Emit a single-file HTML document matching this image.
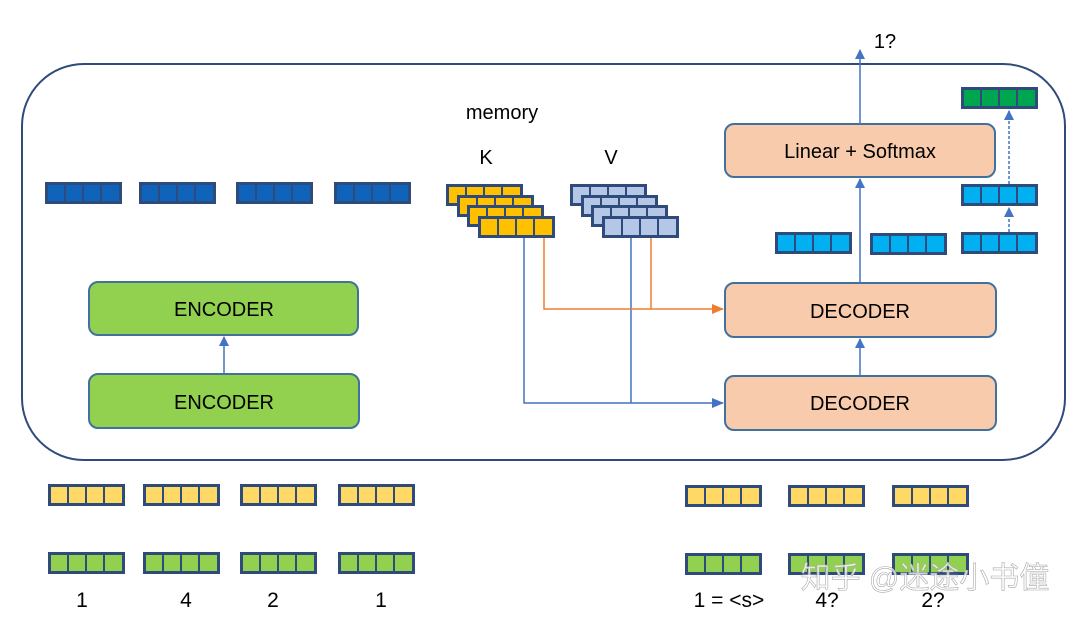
<!DOCTYPE html><html><head><style>body{margin:0;background:#fff}svg{display:block}text{font-family:"Liberation Sans","Noto Sans CJK SC",sans-serif}</style></head><body>
<svg width="1085" height="624" viewBox="0 0 1085 624" xmlns="http://www.w3.org/2000/svg">
<defs>
<marker id="ab" markerWidth="10" markerHeight="10" refX="9" refY="5" orient="auto" markerUnits="userSpaceOnUse"><path d="M0,0L10,5L0,10z" fill="#4472c4"/></marker>
<marker id="ao" markerWidth="12" markerHeight="10" refX="11" refY="5" orient="auto" markerUnits="userSpaceOnUse"><path d="M0,0L12,5L0,10z" fill="#ed7d31"/></marker>
<marker id="ab2" markerWidth="12" markerHeight="10" refX="11" refY="5" orient="auto" markerUnits="userSpaceOnUse"><path d="M0,0L12,5L0,10z" fill="#4472c4"/></marker>
<g id="vb"><rect x="0" y="0" width="77" height="22" fill="#2f4b7c"/><rect x="3" y="3" width="16" height="16"/><rect x="21" y="3" width="16" height="16"/><rect x="39" y="3" width="16" height="16"/><rect x="57" y="3" width="17" height="16"/></g>
</defs>
<rect x="22" y="64" width="1043" height="396" rx="62" fill="none" stroke="#2f4b7c" stroke-width="2"/>
<g fill="#0f63b8"><use href="#vb" x="45" y="182"/><use href="#vb" x="139" y="182"/><use href="#vb" x="236" y="182"/><use href="#vb" x="334" y="182"/></g>
<g fill="#ffd966"><use href="#vb" x="48" y="484"/><use href="#vb" x="143" y="484"/><use href="#vb" x="240" y="484"/><use href="#vb" x="338" y="484"/><use href="#vb" x="685" y="485"/><use href="#vb" x="788" y="485"/><use href="#vb" x="892" y="485"/></g>
<g fill="#92d050"><use href="#vb" x="48" y="552"/><use href="#vb" x="143" y="552"/><use href="#vb" x="240" y="552"/><use href="#vb" x="338" y="552"/><use href="#vb" x="685" y="553"/><use href="#vb" x="788" y="553"/><use href="#vb" x="892" y="553"/></g>
<g fill="#00b0f0"><use href="#vb" x="775" y="232"/><use href="#vb" x="870" y="233"/><use href="#vb" x="961" y="232"/><use href="#vb" x="961" y="184"/></g>
<g fill="#00a550"><use href="#vb" x="961" y="87"/></g>
<g fill="#ffc000"><use href="#vb" x="446" y="184"/><use href="#vb" x="457" y="195"/><use href="#vb" x="467" y="205"/><use href="#vb" x="478" y="216"/></g>
<g fill="#b4c7e7"><use href="#vb" x="570" y="184"/><use href="#vb" x="581" y="195"/><use href="#vb" x="591" y="205"/><use href="#vb" x="602" y="216"/></g>
<text x="502" y="119" font-size="20" text-anchor="middle">memory</text>
<text x="486" y="164" font-size="20" text-anchor="middle">K</text>
<text x="611" y="164" font-size="20" text-anchor="middle">V</text>
<g stroke="#41719c" stroke-width="2">
<rect x="89" y="282" width="269" height="53" rx="9" fill="#92d050"/>
<rect x="89" y="374" width="270" height="54" rx="9" fill="#92d050"/>
<rect x="725" y="283" width="271" height="54" rx="9" fill="#f8cbad"/>
<rect x="725" y="376" width="271" height="54" rx="9" fill="#f8cbad"/>
<rect x="725" y="124" width="270" height="53" rx="9" fill="#f8cbad"/>
</g>
<g font-size="20" text-anchor="middle">
<text x="224" y="316">ENCODER</text><text x="224" y="409">ENCODER</text>
<text x="860" y="318">DECODER</text><text x="860" y="410">DECODER</text>
<text x="860" y="158">Linear + Softmax</text>
<text x="885" y="48">1?</text>
</g>
<g stroke="#4472c4" stroke-width="1.5" fill="none">
<line x1="224" y1="374" x2="224" y2="337" marker-end="url(#ab)"/>
<line x1="860" y1="376" x2="860" y2="339" marker-end="url(#ab)"/>
<line x1="860" y1="283" x2="860" y2="179" marker-end="url(#ab)"/>
<line x1="860" y1="124" x2="860" y2="50" marker-end="url(#ab)"/>
<polyline points="524,238 524,403 723,403" marker-end="url(#ab2)"/>
<line x1="631" y1="238" x2="631" y2="403"/>
<line x1="1009" y1="232" x2="1009" y2="208" stroke-dasharray="3,2" marker-end="url(#ab)"/>
<line x1="1009" y1="184" x2="1009" y2="111" stroke-dasharray="3,2" marker-end="url(#ab)"/>
</g>
<g stroke="#ed7d31" stroke-width="1.5" fill="none">
<polyline points="544,238 544,309 723,309" marker-end="url(#ao)"/>
<line x1="651" y1="238" x2="651" y2="309"/>
</g>
<g font-size="21" text-anchor="middle">
<text x="82" y="607">1</text><text x="186" y="607">4</text><text x="273" y="607">2</text><text x="381" y="607">1</text>
<text x="729" y="607">1 =  &lt;s&gt;</text><text x="827" y="607">4?</text><text x="933" y="607">2?</text>
</g>
<text x="925" y="588" font-size="30" text-anchor="middle" fill="#ffffff" fill-opacity="0.75" stroke="#aaa" stroke-width="0.6">知乎 @迷途小书僮</text>
</svg></body></html>
